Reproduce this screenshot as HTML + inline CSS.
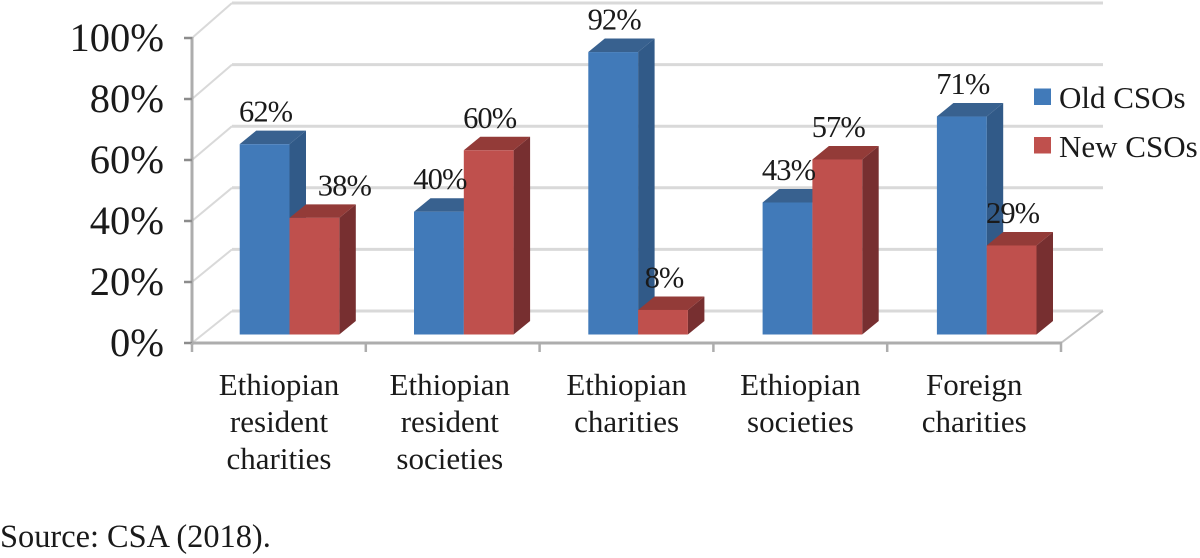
<!DOCTYPE html>
<html lang="en">
<head>
<meta charset="utf-8">
<title>Old and new CSOs by category</title>
<style>
html,body{margin:0;padding:0;background:#fff;width:1200px;height:558px;overflow:hidden}
svg{display:block;font-family:"Liberation Serif","Times New Roman",serif;fill:#1a1a1a}
</style>
</head>
<body>
<svg id="chart" width="1200" height="558" viewBox="0 0 1200 558" xmlns="http://www.w3.org/2000/svg"></svg>
<script>
const categories = [
  ['Ethiopian', 'resident', 'charities'],
  ['Ethiopian', 'resident', 'societies'],
  ['Ethiopian', 'charities'],
  ['Ethiopian', 'societies'],
  ['Foreign', 'charities']
];
const oldCsos = [62, 40, 92, 43, 71];
const newCsos = [38, 60, 8, 57, 29];
const yTicks = [0, 20, 40, 60, 80, 100];
const seriesNames = ['Old CSOs', 'New CSOs'];

const svg = document.getElementById('chart');
const NS = 'http://www.w3.org/2000/svg';
function make(tag, attrs, text) {
  const el = document.createElementNS(NS, tag);
  for (const k in attrs) el.setAttribute(k, attrs[k]);
  if (text !== undefined) el.textContent = text;
  svg.appendChild(el);
  return el;
}
// axis functions
const axisFrontY = v => 343 - v * 3.05;
const axisBackY = v => 311 - v * 3.08;
const barY = v => 334.5 - v * 3.07;
const groupX = i => 239.7 + i * 174.3;
const tickX = i => 192 + i * 173.8;
const BAR_W = 49.8, DX = 16.5, DY = 13.5;
const BACK_X = 232, RIGHT_BACK_X = 1103;
const series = [
  {values: oldCsos, front: '#417ab9', top: '#38618f', side: '#315a88', swatch: '#417ab9', name: 'old'},
  {values: newCsos, front: '#bf504d', top: '#933b38', side: '#772f30', swatch: '#bf504d', name: 'new'}
];

// back wall gridlines and side wall
yTicks.forEach(t => {
  let el = make('line', {x1: BACK_X, x2: RIGHT_BACK_X, y1: axisBackY(t), y2: axisBackY(t), stroke: '#d9d9d9', 'stroke-width': 3});
  
  
  el = make('line', {x1: 192, x2: BACK_X, y1: axisFrontY(t), y2: axisBackY(t), stroke: '#d9d9d9', 'stroke-width': 2});
  
  
});
let floorEdge = make('line', {x1: 1061, x2: RIGHT_BACK_X, y1: 343, y2: 311, stroke: '#c4c4c4', 'stroke-width': 2});



// axes
let yAxis = make('line', {x1: 192, x2: 192, y1: axisFrontY(100) - 1, y2: 345, stroke: '#adadad', 'stroke-width': 3});


let xAxis = make('line', {x1: 191, x2: 1062, y1: 343, y2: 343, stroke: '#adadad', 'stroke-width': 3});



yTicks.forEach(t => {
  const m = make('line', {x1: 184, x2: 192, y1: axisFrontY(t), y2: axisFrontY(t), stroke: '#8c8c8c', 'stroke-width': 2.5});
  
  
  const lab = make('text', {x: 164, y: axisFrontY(t) + 13, 'text-anchor': 'end', 'font-size': 40.5}, t + '%');
  
  
});
for (let i = 0; i <= categories.length; i++) {
  const m = make('line', {x1: tickX(i), x2: tickX(i), y1: 343, y2: 352, stroke: '#adadad', 'stroke-width': 2.5});
  
  
}

// bars
categories.forEach((c, i) => {
  series.forEach((s, k) => {
    const v = s.values[i];
    const x = groupX(i) + k * BAR_W, y = barY(v), b = barY(0), w = BAR_W;
    const side = make('polygon', {points: `${x+w},${y} ${x+w+DX},${y-DY} ${x+w+DX},${b-DY} ${x+w},${b}`, fill: s.side});
    
    
    const top = make('polygon', {points: `${x},${y} ${x+DX},${y-DY} ${x+w+DX},${y-DY} ${x+w},${y}`, fill: s.top});
    
    
    const front = make('rect', {x: x, y: y, width: w, height: b - y, fill: s.front});
    
    
  });
});

// value labels
categories.forEach((c, i) => {
  series.forEach((s, k) => {
    const v = s.values[i];
    const nudge = (i === 0 && k === 1) ? 30 : 1;
    const x = groupX(i) + k * BAR_W + BAR_W / 2 + nudge;
    const lab = make('text', {x: x, y: barY(v) - 22.5, 'text-anchor': 'middle', 'font-size': 30.5, 'letter-spacing': -0.9}, v + '%');
    
    
  });
});

// category labels
categories.forEach((lines, i) => {
  const nudge = i === 1 ? -3 : 0;
  lines.forEach((line, j) => {
    const lab = make('text', {x: 279 + nudge + i * 173.8, y: 395 + j * 37, 'text-anchor': 'middle', 'font-size': 31}, line);
    
    
  });
});

// legend
series.forEach((s, k) => {
  const sw = make('rect', {x: 1034, y: 88.5 + k * 48.5, width: 17, height: 16.5, fill: s.swatch});
  
  
  const lab = make('text', {x: 1059, y: 108 + k * 49, 'font-size': 31}, seriesNames[k]);
  
  
});

let source = make('text', {x: 0, y: 547, 'font-size': 32.4}, 'Source: CSA (2018).');


</script>
</body>
</html>
